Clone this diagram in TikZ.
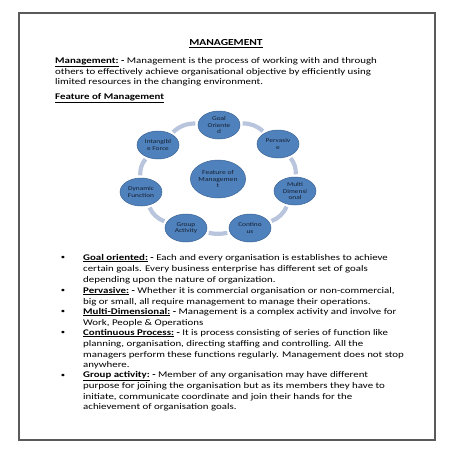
\documentclass[tikz,border=0pt]{standalone}
\usepackage{fontspec}
\setmainfont{Carlito}[FakeStretch=1.25]
\usetikzlibrary{shapes.geometric}
\definecolor{nodeblue}{HTML}{4F81BD}
\definecolor{nodeedge}{HTML}{3C6494}
\definecolor{ringcol}{HTML}{B8C5DD}
\definecolor{nodetext}{HTML}{17202E}
\definecolor{framecol}{HTML}{5A5A5A}
\tikzset{
  txt/.style={anchor=west,inner sep=0pt,font=\fontsize{8.7}{10}\selectfont},
  bul/.style={inner sep=0pt,font=\fontsize{7}{8}\selectfont},
  feat/.style={ellipse,fill=nodeblue,draw=nodeedge,line width=0.5pt,minimum width=42pt,minimum height=28pt,inner sep=0pt,align=center,text=nodetext,font=\fontsize{5.9}{6.3}\selectfont},
  hub/.style={feat,minimum width=50pt,minimum height=38pt,font=\fontsize{6.1}{6.8}\selectfont},
  ring/.style={draw=ringcol,line width=4.2pt,shorten <=2.5pt,shorten >=2.5pt}
}
\newcommand{\lbl}[1]{\underline{\textbf{#1}}}
\begin{document}
\begin{tikzpicture}[x=1pt,y=-1pt]
\useasboundingbox (0,0) rectangle (453,453);
\fill[white] (0,0) rectangle (453,453);
\draw[framecol,line width=1.6pt] (19,13) rectangle (435,440);
% header
\node[inner sep=0pt,font=\fontsize{9.2}{10}\selectfont] (title) at (226,44) {\lbl{MANAGEMENT}};
\node[txt] (p1) at (55,62) {\lbl{Management:}\textbf{ -} Management is the process of working with and through};
\node[txt] (p2) at (55,72) {others to effectively achieve organisational objective by efficiently using};
\node[txt] (p3) at (55,82) {limited resources in the changing environment.};
\node[txt] (feathead) at (55,98) {\lbl{Feature of Management}};
% diagram
\node[hub] (c) at (218,179) {Feature of\\Managemen\\t};
\node[feat] (n1) at (219,125) {Goal\\Oriente\\d};
\node[feat] (n2) at (278,144) {Pervasiv\\e};
\node[feat] (n3) at (295,191) {Multi\\Dimensi\\onal};
\node[feat] (n4) at (250,228) {Contino\\us};
\node[feat] (n5) at (186,228) {Group\\Activity};
\node[feat] (n6) at (141,192) {Dynamic\\Function};
\node[feat] (n7) at (158,145) {Intangibl\\e Force};
\draw[ring] (n1) to[bend left=22] (n2);
\draw[ring] (n2) to[bend left=22] (n3);
\draw[ring] (n3) to[bend left=22] (n4);
\draw[ring] (n4) to[bend left=12] (n5);
\draw[ring] (n5) to[bend left=22] (n6);
\draw[ring] (n6) to[bend left=22] (n7);
\draw[ring] (n7) to[bend left=22] (n1);
% bullets
\foreach \yy/\nm in {258/b1,291/b2,312/b3,333/b4,376/b5}{
  \node[bul] (\nm) at (63,\yy) {\textbullet};
}
\node[txt] (g1) at (83,258) {\lbl{Goal oriented:}\textbf{ -} Each and every organisation is establishes to achieve};
\node[txt] (g2) at (83,269) {certain goals. Every business enterprise has different set of goals};
\node[txt] (g3) at (83,280) {depending upon the nature of organization.};
\node[txt] (v1) at (83,291) {\lbl{Pervasive:}\textbf{ -} Whether it is commercial organisation or non-commercial,};
\node[txt] (v2) at (83,302) {big or small, all require management to manage their operations.};
\node[txt] (m1) at (83,312) {\lbl{Multi-Dimensional:}\textbf{ -} Management is a complex activity and involve for};
\node[txt] (m2) at (83,323) {Work, People \& Operations};
\node[txt] (k1) at (83,333) {\lbl{Continuous Process:}\textbf{ -} It is process consisting of series of function like};
\node[txt] (k2) at (83,344) {planning, organisation, directing staffing and controlling. All the};
\node[txt] (k3) at (83,355) {managers perform these functions regularly. Management does not stop};
\node[txt] (k4) at (83,365) {anywhere.};
\node[txt] (a1) at (83,376) {\lbl{Group activity:}\textbf{ -} Member of any organisation may have different};
\node[txt] (a2) at (83,386) {purpose for joining the organisation but as its members they have to};
\node[txt] (a3) at (83,397) {initiate, communicate coordinate and join their hands for the};
\node[txt] (a4) at (83,407) {achievement of organisation goals.};
\end{tikzpicture}
\end{document}
